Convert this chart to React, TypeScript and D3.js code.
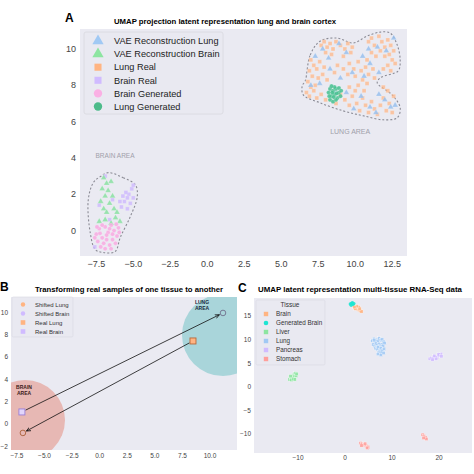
import * as d3 from "d3";

const FONT = "'Liberation Sans', Arial, Helvetica, sans-serif";
const BG = "#eaeaf2";
type Pt = [number, number];

// ---------- Panel A: UMAP lung vs brain ----------
const aXTicks = [-7.5, -5, -2.5, 0, 2.5, 5, 7.5, 10, 12.5];
const aYTicks = [0, 2, 4, 6, 8, 10];

const lungReal: Pt[] = [
  [7.7, 10.2], [7.9, 10.4], [8.1, 10.1], [8.3, 10.3], [8.5, 10.0], [8.7, 10.4], [8.0, 9.8], [8.4, 9.7],
  [9.0, 10.2], [9.3, 10.0], [9.5, 10.3], [9.7, 9.8], [9.2, 9.6], [9.8, 10.1],
  [10.9, 10.4], [11.1, 10.6], [11.3, 10.2], [11.6, 10.7], [11.8, 10.4], [12.0, 10.1], [12.2, 10.5],
  [12.4, 10.2], [12.6, 9.9], [12.3, 9.7], [12.0, 9.6], [11.7, 9.9], [11.4, 9.6], [12.5, 9.4], [12.7, 9.2],
  [12.2, 9.1], [11.9, 8.9], [12.4, 8.8], [11.1, 9.8], [10.8, 9.4],
  [7.0, 9.4], [7.2, 9.1], [6.9, 8.8], [7.4, 8.9], [7.6, 9.3], [7.1, 8.5], [7.5, 8.4], [6.8, 8.2],
  [7.3, 8.0], [7.8, 8.6], [7.9, 9.0], [8.1, 8.3],
  [9.6, 9.2], [9.9, 8.9], [10.2, 9.3], [10.4, 8.8], [10.7, 9.0], [10.0, 8.5], [10.5, 8.3], [10.9, 8.6],
  [11.2, 8.9], [11.3, 8.4], [10.2, 8.0], [10.8, 8.1], [9.5, 8.6], [9.2, 8.9], [8.8, 9.1], [8.6, 8.7],
  [6.7, 7.6], [6.9, 7.4], [7.2, 7.7], [7.4, 7.3], [7.7, 7.5], [8.0, 7.2], [7.0, 7.9],
  [9.3, 7.2], [9.6, 6.9], [9.8, 7.4], [10.1, 7.0], [10.3, 6.6], [10.5, 7.3], [10.7, 6.9], [10.9, 6.5],
  [11.1, 7.1], [11.3, 6.7], [11.5, 6.4], [11.7, 6.9], [11.9, 7.3], [12.1, 6.6], [12.3, 7.0], [12.5, 6.5],
  [12.6, 7.4], [12.2, 7.7], [11.9, 7.9], [10.0, 7.7], [9.6, 7.9], [9.0, 7.5], [8.7, 7.0], [10.6, 7.7],
];
const vaeLung: Pt[] = [
  [7.8, 10.0], [8.9, 10.3], [9.4, 9.8], [10.5, 9.6], [11.5, 10.1], [12.1, 9.9], [12.6, 10.6], [11.0, 9.2],
  [11.6, 8.7], [10.6, 8.5], [9.8, 8.7], [7.3, 9.6], [7.6, 8.1], [7.0, 8.0], [8.3, 8.9], [9.0, 8.4],
  [10.4, 7.4], [11.0, 6.8], [11.6, 7.5], [12.4, 6.8], [12.0, 7.2], [9.9, 6.7], [9.4, 7.6], [8.6, 7.6],
  [11.4, 6.5], [12.7, 6.9], [10.9, 10.0], [8.2, 9.5],
];
const lungGenerated: Pt[] = [
  [8.2, 7.6], [8.3, 7.8], [8.4, 7.4], [8.5, 7.7], [8.6, 7.5], [8.7, 7.8], [8.8, 7.3], [8.9, 7.6],
  [9.0, 7.4], [8.3, 7.2], [8.5, 7.1], [8.7, 7.2], [8.6, 7.9], [8.4, 7.95], [8.9, 7.85], [9.05, 7.7],
  [8.25, 7.4], [8.75, 7.55], [8.55, 7.35], [8.45, 7.6],
];
const brainGenerated: Pt[] = [
  [-7.5, -0.2], [-7.3, 0.1], [-7.1, -0.4], [-6.9, 0.2], [-6.7, -0.1], [-6.5, 0.3], [-6.3, 0.0], [-6.1, -0.3],
  [-6.0, 0.15], [-7.4, -0.6], [-7.2, -0.9], [-7.0, -0.7], [-6.8, -0.5], [-6.6, -0.8], [-6.4, -0.5],
  [-6.2, -0.7], [-7.6, -0.4], [-6.9, -1.0], [-7.1, 0.3], [-6.6, 0.1], [-6.4, -0.2], [-6.8, -0.25],
  [-7.25, -0.15], [-6.15, 0.35], [-6.5, -1.0], [-7.45, 0.2], [-5.95, -0.1],
];
const brainReal: Pt[] = [
  [-5.8, 1.3], [-5.6, 1.6], [-5.4, 1.2], [-5.2, 1.5], [-5.0, 1.8], [-5.3, 2.0], [-5.1, 2.3], [-5.5, 2.1],
  [-5.7, 1.9], [-5.0, 2.5], [-5.4, 1.8], [-5.9, 1.6], [-6.9, 3.0], [-6.6, 0.6], [-7.3, 1.4], [-6.4, 1.7],
  [-7.6, -0.9],
];
const vaeBrain: Pt[] = [
  [-7.0, 2.9], [-6.8, 2.6], [-7.1, 2.3], [-6.7, 2.2], [-6.9, 1.9], [-7.2, 1.6], [-6.6, 1.5], [-7.0, 1.2],
  [-6.8, 1.0], [-6.4, 1.9], [-6.3, 1.2], [-6.5, 2.7], [-7.3, 0.5], [-6.9, 0.6], [-6.2, 0.7], [-5.9, 0.5],
  [-6.5, 0.4], [-6.1, 1.0],
];
const lungOutline: Pt[] = [
  [6.62, 8.24], [6.96, 9.67], [7.64, 10.44], [8.78, 10.6], [9.86, 10.33], [10.81, 10.71], [11.69, 10.93],
  [12.36, 10.88], [12.84, 10.22], [13.04, 9.34], [12.9, 8.79], [11.69, 8.41], [11.49, 8.13], [12.5, 7.47],
  [13.04, 6.76], [12.84, 6.21], [11.89, 6.1], [10.54, 6.32], [9.19, 6.59], [7.64, 7.03], [6.49, 7.47],
  [6.42, 7.97],
];
const brainOutline: Pt[] = [
  [-6.69, 3.19], [-5.68, 2.91], [-4.86, 2.53], [-4.73, 1.87], [-5.2, 0.77], [-5.88, -0.38], [-6.22, -1.15],
  [-7.03, -1.21], [-7.57, -1.04], [-7.91, -0.11], [-8.04, 1.7], [-7.7, 2.64], [-7.23, 2.97],
];
const aLegend = [
  "VAE Reconstruction Lung",
  "VAE Reconstruction Brain",
  "Lung Real",
  "Brain Real",
  "Brain Generated",
  "Lung Generated",
];

// ---------- Panel B: shifting samples ----------
const bXTicks = [-7.5, -5, -2.5, 0, 2.5, 5, 7.5, 10];
const bYTicks = [-2, 0, 2, 4, 6, 8, 10];
const bRealBrain: Pt = [-7.05, 1.08];
const bShiftedBrain: Pt = [11.18, 9.95];
const bRealLung: Pt = [8.46, 7.44];
const bShiftedLung: Pt = [-6.96, -0.8];
const bLungAreaCenter: Pt = [11.18, 7.97];
const bBrainAreaCenter: Pt = [-6.77, 0.36];
const bLegend = ["Shifted Lung", "Shifted Brain", "Real Lung", "Real Brain"];

// ---------- Panel C: multi-tissue ----------
const cXTicks = [-10, 0, 10, 20];
const cYTicks = [-10, -5, 0, 5, 10, 15];
const cTissues = ["Brain", "Generated Brain", "Liver", "Lung", "Pancreas", "Stomach"];
const cColors = ["#ffb482", "#1de5d2", "#8de5a1", "#a1c9f4", "#d0bbff", "#ff9f9b"];
const cBrain: Pt[] = [
  [1.8, 17.3], [2.1, 17.0], [2.4, 16.8], [2.7, 16.5], [3.0, 16.3], [3.3, 16.1], [2.2, 16.6], [2.9, 16.9],
  [3.5, 16.0], [2.5, 17.1], [2.0, 16.9], [3.1, 16.6],
];
const cGenBrain: Pt[] = [[1.1, 17.6], [1.4, 17.8], [1.7, 17.5], [1.3, 17.3], [1.9, 17.7], [1.6, 17.9]];
const cLiver: Pt[] = [
  [-11.8, 1.6], [-11.5, 1.9], [-11.2, 2.2], [-10.9, 2.6], [-10.6, 2.9], [-11.4, 1.5], [-10.8, 2.0],
  [-10.4, 2.4], [-11.0, 1.7], [-10.3, 2.8], [-11.6, 2.3], [-10.7, 1.6],
];
const cLung: Pt[] = [
  [5.8, 9.8], [6.1, 10.2], [6.4, 9.5], [6.7, 10.0], [7.0, 9.7], [7.3, 10.3], [7.6, 9.9], [7.9, 10.1],
  [8.2, 9.6], [6.0, 9.0], [6.3, 8.7], [6.6, 9.2], [6.9, 8.8], [7.2, 9.1], [7.5, 8.6], [7.8, 9.0],
  [8.1, 8.7], [6.5, 8.2], [6.8, 8.0], [7.1, 8.4], [7.4, 7.9], [7.7, 8.2], [8.0, 7.8], [8.3, 8.1],
  [7.2, 7.4], [7.5, 7.1], [7.8, 7.5], [7.0, 7.0], [7.6, 6.8], [8.2, 7.2], [6.2, 9.9], [8.4, 9.3],
];
const cPancreas: Pt[] = [
  [18.0, 6.0], [18.4, 6.2], [18.8, 6.1], [19.2, 6.4], [19.6, 6.3], [20.0, 6.7], [20.4, 7.0], [18.6, 5.8],
  [19.4, 6.0], [19.9, 6.9], [20.5, 6.5], [19.0, 6.6],
];
const cStomach: Pt[] = [
  [3.3, -11.9], [3.7, -12.1], [4.1, -12.3], [4.5, -12.5], [4.9, -12.7], [3.5, -12.4], [4.3, -12.0],
  [4.7, -12.9], [16.5, -10.1], [16.8, -10.4], [17.1, -10.7], [17.3, -11.0], [16.7, -10.8],
];
const cSeries = [cBrain, cGenBrain, cLiver, cLung, cPancreas, cStomach];

const sym = (type: d3.SymbolType, size: number) => d3.symbol().type(type).size(size)()!;

export default function App() {
  // panel A scales
  const ax = d3.scaleLinear().domain([-8.6, 13.5]).range([80, 407]);
  const ay = d3.scaleLinear().domain([-1.4, 11.1]).range([256, 29]);
  // panel B scales
  const bx = d3.scaleLinear().domain([-8.04, 12.45]).range([11, 237]);
  const by = d3.scaleLinear().domain([-2.33, 11.38]).range([450, 297]);
  // panel C scales
  const cx = d3.scaleLinear().domain([-19.36, 27.0]).range([254, 472]);
  const cy = d3.scaleLinear().domain([-13.98, 18.86]).range([453, 298]);

  const fmt1 = d3.format(".1f");
  const fmt0 = d3.format("d");

  const outline = (pts: Pt[]) =>
    d3.line<Pt>().x((d) => ax(d[0])).y((d) => ay(d[1])).curve(d3.curveCatmullRomClosed.alpha(0.5))(pts)!;

  const tri = sym(d3.symbolTriangle, 15);
  const sq = sym(d3.symbolSquare, 15);
  const circ = sym(d3.symbolCircle, 14);

  const aSeries = [
    { pts: lungReal, path: sq, fill: "#ffb482", op: 0.7 },
    { pts: vaeLung, path: tri, fill: "#94bdec", op: 0.8 },
    { pts: brainReal, path: sq, fill: "#cdb8fc", op: 0.8 },
    { pts: vaeBrain, path: tri, fill: "#84e09e", op: 0.8 },
    { pts: brainGenerated, path: circ, fill: "#f8aae2", op: 0.85 },
    { pts: lungGenerated, path: circ, fill: "#45c08e", op: 0.85 },
  ];
  const aLegendMarks = [
    { path: sym(d3.symbolTriangle, 55), fill: "#a1c9f4" },
    { path: sym(d3.symbolTriangle, 55), fill: "#8de5a1" },
    { path: sym(d3.symbolSquare, 50), fill: "#ffb482" },
    { path: sym(d3.symbolSquare, 50), fill: "#d0bbff" },
    { path: sym(d3.symbolCircle, 55), fill: "#fab0e4" },
    { path: sym(d3.symbolCircle, 55), fill: "#4dbb8a" },
  ];

  const arrow = (from: Pt, to: Pt, pad: number) => {
    const x1 = bx(from[0]), y1 = by(from[1]);
    const x2 = bx(to[0]), y2 = by(to[1]);
    const len = Math.hypot(x2 - x1, y2 - y1);
    const ux = (x2 - x1) / len, uy = (y2 - y1) / len;
    return { x1: x1 + ux * pad, y1: y1 + uy * pad, x2: x2 - ux * pad, y2: y2 - uy * pad };
  };
  const arr1 = arrow(bRealBrain, bShiftedBrain, 4);
  const arr2 = arrow(bRealLung, bShiftedLung, 4);

  return (
    <svg
      width={474}
      height={474}
      style={{ position: "absolute", left: 0, top: 0, background: "#fff" }}
      fontFamily={FONT}
    >
      <defs>
        <clipPath id="clipA">
          <rect x={80} y={29} width={327} height={227} />
        </clipPath>
        <clipPath id="clipB">
          <rect x={11} y={297} width={226} height={153} />
        </clipPath>
        <clipPath id="clipC">
          <rect x={254} y={298} width={218} height={155} />
        </clipPath>
        <marker id="head" viewBox="0 0 10 10" refX={9} refY={5} markerWidth={6} markerHeight={6} orient="auto">
          <path d="M0,1 L9,5 L0,9" fill="none" stroke="#111" strokeWidth={1.6} />
        </marker>
      </defs>

      {/* ---------------- Panel A ---------------- */}
      <text x={65} y={22} fontSize={12} fontWeight="bold">A</text>
      <text x={225} y={24} fontSize={8} fontWeight="bold" textAnchor="middle" textLength={222} lengthAdjust="spacingAndGlyphs">
        UMAP projection latent representation lung and brain cortex
      </text>
      <rect x={80} y={29} width={327} height={227} fill={BG} />
      <g clipPath="url(#clipA)">
        <path d={outline(lungOutline)} fill="none" stroke="#8a8a94" strokeWidth={1.1} strokeDasharray="2,2" />
        <path d={outline(brainOutline)} fill="none" stroke="#8a8a94" strokeWidth={1.1} strokeDasharray="2,2" />
        {aSeries.map((s, i) => (
          <g key={i}>
            {s.pts.map((p, j) => (
              <path
                key={j}
                d={s.path}
                transform={`translate(${ax(p[0])},${ay(p[1])})`}
                fill={s.fill}
                fillOpacity={s.op}
                stroke="#fff"
                strokeOpacity={0.6}
                strokeWidth={0.3}
              />
            ))}
          </g>
        ))}
        <text x={ax(9.66)} y={ay(5.3)} fontSize={7} fill="#a0a0aa" textAnchor="middle">LUNG AREA</text>
        <text x={ax(-7.55)} y={ay(4.0)} fontSize={6.5} fill="#a0a0aa">BRAIN AREA</text>
      </g>
      {/* legend A */}
      <rect x={84} y={32} width={139} height={82} rx={2} fill="#e9e9f1" stroke="#d8d8e0" strokeWidth={0.8} />
      {aLegend.map((t, i) => (
        <g key={t} transform={`translate(0,${41 + i * 13.1})`}>
          <path d={aLegendMarks[i].path} transform="translate(98,0)" fill={aLegendMarks[i].fill} />
          <text x={114} y={0} dy="0.35em" fontSize={9.2} fill="#222">{t}</text>
        </g>
      ))}
      {aXTicks.map((t) => (
        <text key={t} x={ax(t)} y={267} fontSize={9} fill="#444" textAnchor="middle">{fmt1(t)}</text>
      ))}
      {aYTicks.map((t) => (
        <text key={t} x={76} y={ay(t)} dy="0.35em" fontSize={9} fill="#444" textAnchor="end">{fmt0(t)}</text>
      ))}

      {/* ---------------- Panel B ---------------- */}
      <text x={0} y={291} fontSize={12} fontWeight="bold">B</text>
      <text x={129} y={292} fontSize={8} fontWeight="bold" textAnchor="middle" textLength={188} lengthAdjust="spacingAndGlyphs">
        Transforming real samples of one tissue to another
      </text>
      <rect x={11} y={297} width={226} height={153} fill={BG} />
      <g clipPath="url(#clipB)">
        <circle cx={bx(bLungAreaCenter[0])} cy={by(bLungAreaCenter[1])} r={41} fill="#a9d5da" />
        <circle cx={bx(bBrainAreaCenter[0])} cy={by(bBrainAreaCenter[1])} r={40} fill="#e7b8b4" />
        <text x={202} y={304} fontSize={5} fontWeight="bold" fill="#1a2a40" textAnchor="middle">
          <tspan x={202}>LUNG</tspan>
          <tspan x={202} dy={6}>AREA</tspan>
        </text>
        <text x={24} y={389} fontSize={5} fontWeight="bold" fill="#3a1a1a" textAnchor="middle">
          <tspan x={24}>BRAIN</tspan>
          <tspan x={24} dy={6}>AREA</tspan>
        </text>
        <line {...arr1} stroke="#111" strokeWidth={0.8} markerEnd="url(#head)" />
        <line {...arr2} stroke="#111" strokeWidth={0.8} markerEnd="url(#head)" />
        <rect x={bx(bRealBrain[0]) - 3} y={by(bRealBrain[1]) - 3} width={6} height={6} fill="#e2d6fb" stroke="#9a7fd8" strokeWidth={0.9} />
        <rect x={bx(bRealLung[0]) - 3} y={by(bRealLung[1]) - 3} width={6} height={6} fill="#ffb482" stroke="#b8683a" strokeWidth={0.9} />
        <circle cx={bx(bShiftedBrain[0])} cy={by(bShiftedBrain[1])} r={2.8} fill="none" stroke="#6f6f8c" strokeWidth={0.9} />
        <circle cx={bx(bShiftedLung[0])} cy={by(bShiftedLung[1])} r={2.8} fill="none" stroke="#a9603a" strokeWidth={0.9} />
      </g>
      <rect x={12} y={297} width={61} height={40} rx={1.5} fill="#e9e9f1" stroke="#d8d8e0" strokeWidth={0.6} />
      {bLegend.map((t, i) => (
        <g key={t} transform={`translate(0,${304.5 + i * 9})`}>
          {i < 2 ? (
            <circle cx={23} cy={0} r={2.2} fill={i === 0 ? "#ffb482" : "#d0bbff"} />
          ) : (
            <rect x={20.7} y={-2.3} width={4.6} height={4.6} fill={i === 2 ? "#ffb482" : "#d0bbff"} />
          )}
          <text x={35} y={0} dy="0.35em" fontSize={6} fill="#333">{t}</text>
        </g>
      ))}
      {bXTicks.map((t) => (
        <text key={t} x={bx(t)} y={458} fontSize={6.5} fill="#444" textAnchor="middle">{fmt1(t)}</text>
      ))}
      {bYTicks.map((t) => (
        <text key={t} x={8} y={by(t)} dy="0.35em" fontSize={6.5} fill="#444" textAnchor="end">{fmt0(t)}</text>
      ))}

      {/* ---------------- Panel C ---------------- */}
      <text x={238} y={292} fontSize={12} fontWeight="bold">C</text>
      <text x={360} y={292} fontSize={8} fontWeight="bold" textAnchor="middle" textLength={204} lengthAdjust="spacingAndGlyphs">
        UMAP latent representation multi-tissue RNA-Seq data
      </text>
      <rect x={254} y={298} width={218} height={155} fill={BG} />
      <g clipPath="url(#clipC)">
        {cSeries.map((pts, i) => (
          <g key={i}>
            {pts.map((p, j) =>
              i === 1 ? (
                <circle key={j} cx={cx(p[0])} cy={cy(p[1])} r={1.6} fill={cColors[i]} fillOpacity={0.9} />
              ) : (
                <rect
                  key={j}
                  x={cx(p[0]) - 1.6}
                  y={cy(p[1]) - 1.6}
                  width={3.2}
                  height={3.2}
                  fill={cColors[i]}
                  fillOpacity={0.85}
                  stroke="#fff"
                  strokeWidth={0.3}
                />
              ),
            )}
          </g>
        ))}
      </g>
      <rect x={256} y={300} width={69} height={65} rx={1.5} fill="#e9e9f1" stroke="#d8d8e0" strokeWidth={0.6} />
      <text x={290} y={305} dy="0.35em" fontSize={6.5} fill="#333" textAnchor="middle">Tissue</text>
      {cTissues.map((t, i) => (
        <g key={t} transform={`translate(0,${314 + i * 9})`}>
          {i === 1 ? (
            <circle cx={266} cy={0} r={2.3} fill={cColors[i]} />
          ) : (
            <rect x={263.8} y={-2.2} width={4.4} height={4.4} fill={cColors[i]} />
          )}
          <text x={276} y={0} dy="0.35em" fontSize={6.3} fill="#333">{t}</text>
        </g>
      ))}
      {cXTicks.map((t) => (
        <text key={t} x={cx(t)} y={460} fontSize={6.5} fill="#444" textAnchor="middle">{fmt0(t)}</text>
      ))}
      {cYTicks.map((t) => (
        <text key={t} x={251} y={cy(t)} dy="0.35em" fontSize={6.5} fill="#444" textAnchor="end">{fmt0(t)}</text>
      ))}
    </svg>
  );
}
